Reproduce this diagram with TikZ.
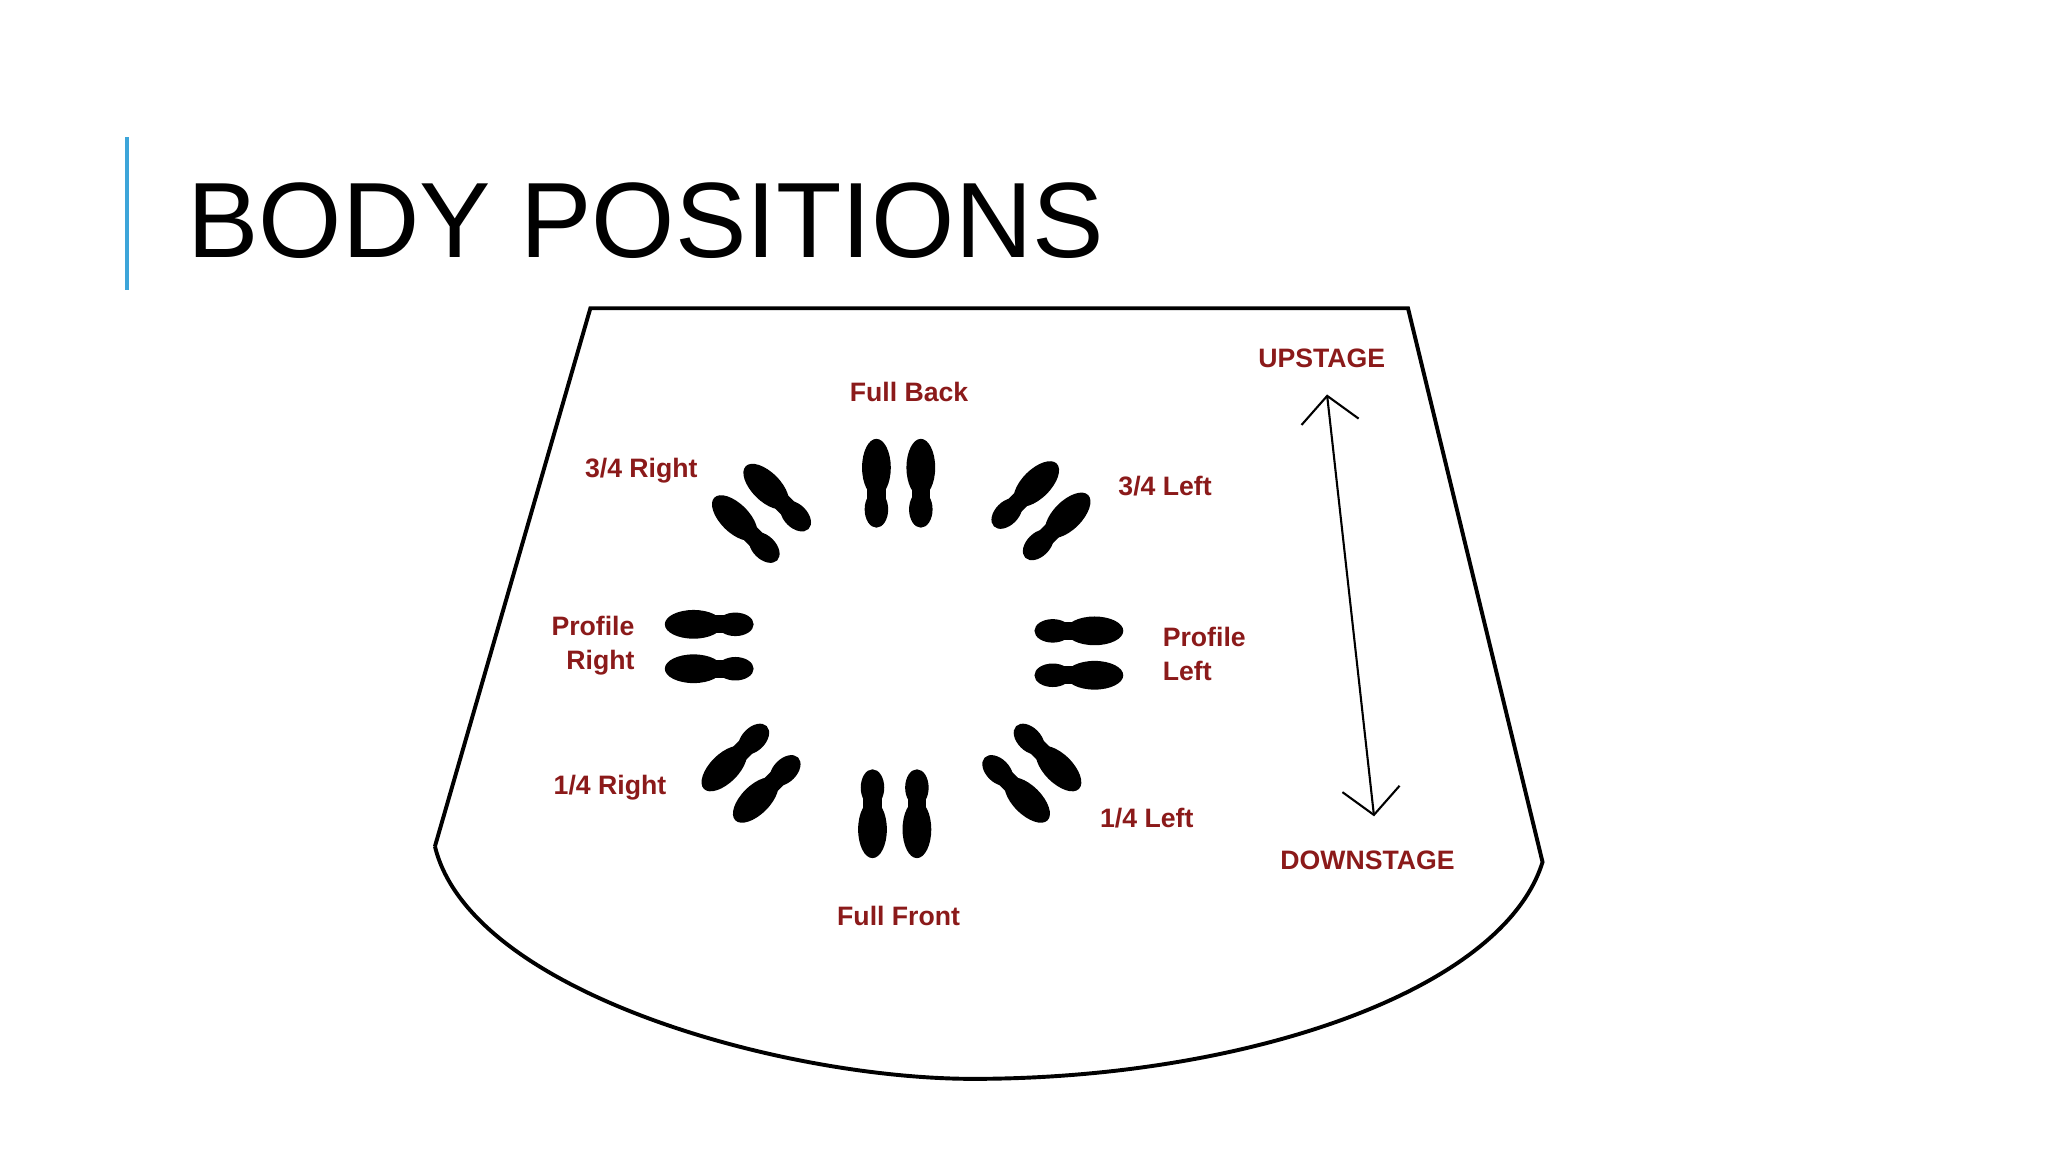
\documentclass[tikz,border=0pt]{standalone}
\usepackage{fontspec}
\usetikzlibrary{arrows.meta}
\setmainfont{Liberation Sans}
\definecolor{lbl}{HTML}{8B1A1A}
\definecolor{bar}{HTML}{3DA5D9}
\tikzset{
  lab/.style={text=lbl,font=\bfseries\fontsize{10.2}{13}\selectfont,inner sep=0pt},
}
\newcommand{\onefoot}[1]{%
  \fill (#1,-12) ellipse [x radius=11, y radius=22];
  \fill (#1,20) ellipse [x radius=9, y radius=14];
  \fill (#1-7,4) rectangle (#1+7,18);}
\newcommand{\feetpair}[3]{%
  \begin{scope}[shift={(#1,#2)},rotate=#3]
  \onefoot{-17}\onefoot{17}
  \end{scope}}
\begin{document}
\begin{tikzpicture}[x=0.5pt,y=-0.5pt]
\useasboundingbox (0,0) rectangle (1568,882);
\fill[white] (0,0) rectangle (1568,882);
\fill[bar] (96,105) rectangle (99,222);
\node[anchor=base west,inner sep=0pt,font=\fontsize{41}{48}\selectfont] (title) at (143,197) {BODY POSITIONS};
% stage
\draw[line width=1.5pt] (333,648) -- (452,236) -- (1078,236) -- (1181,660)
  .. controls (1150,760) and (950,826) .. (745,826)
  .. controls (600,826) and (360,760) .. (333,648);
% feet
\feetpair{688}{370}{0}
\feetpair{685}{623}{180}
\feetpair{543}{495}{90}
\feetpair{826}{500}{270}
\feetpair{583}{393}{45}
\feetpair{797}{391}{-45}
\feetpair{575}{592}{135}
\feetpair{790}{592}{225}
% labels
\node[lab] (fb) at (696,300) {Full Back};
\node[lab] (tqr) at (491,360) {3/4 Right};
\node[lab] (tql) at (892,372) {3/4 Left};
\node[lab,align=right] (pr) at (454,494) {Profile\\Right};
\node[lab,align=left] (pl) at (922,501) {Profile\\Left};
\node[lab] (oqr) at (467,603) {1/4 Right};
\node[lab] (oql) at (878,626) {1/4 Left};
\node[lab] (ff) at (688,701) {Full Front};
\node[lab] (up) at (1012,274) {UPSTAGE};
\node[lab] (down) at (1047,659) {DOWNSTAGE};
\coordinate (a1) at (1016,302);
\coordinate (a2) at (1052,625);
\draw[line width=0.8pt,{Straight Barb[length=10pt,width=22pt]}-{Straight Barb[length=10pt,width=22pt]}] (a1) -- (a2);
\end{tikzpicture}
\end{document}
